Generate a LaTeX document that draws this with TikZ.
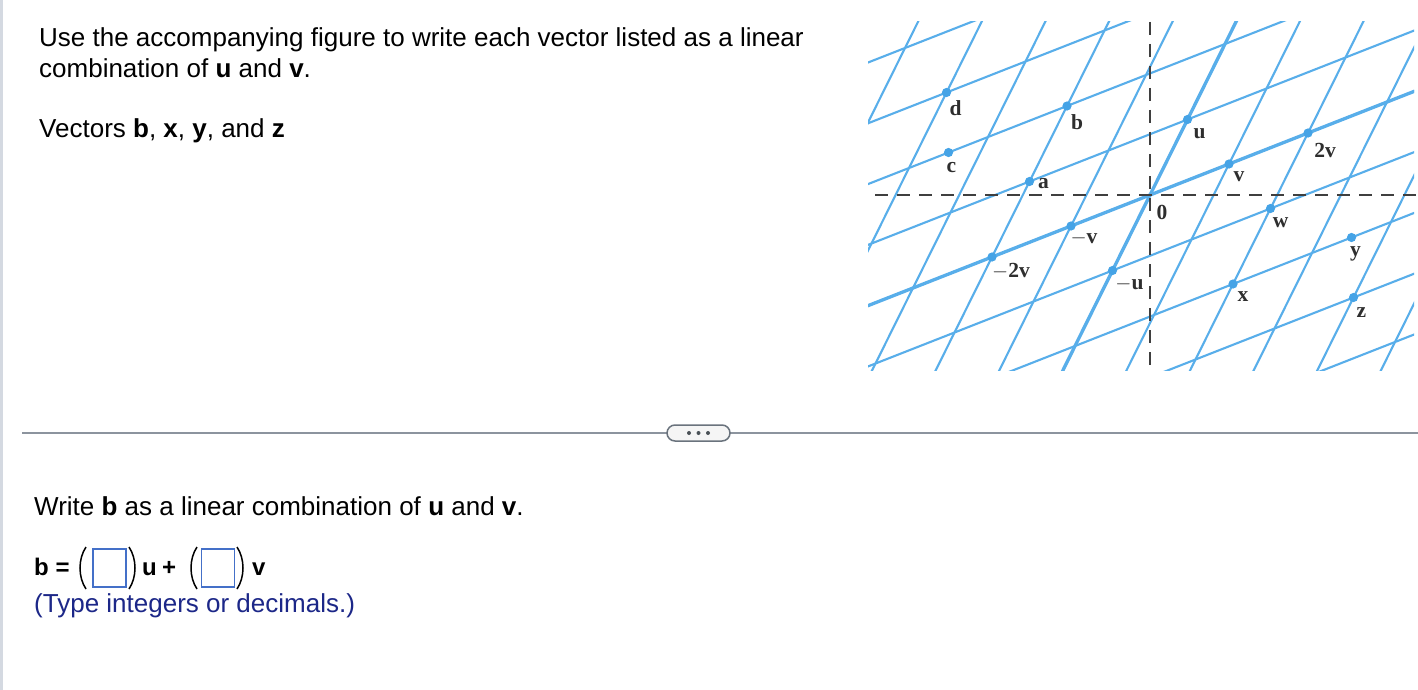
\documentclass[tikz,border=0pt]{standalone}
\usepackage{fontspec}
\setmainfont{Liberation Sans}
\newfontfamily\figfont{Liberation Serif}
\usetikzlibrary{calc, positioning}
\definecolor{gridblue}{HTML}{58AEEA}
\definecolor{dotblue}{HTML}{45A3E6}
\definecolor{labgray}{HTML}{2E2E2E}
\definecolor{axisgray}{HTML}{3F3F3F}
\definecolor{boxblue}{HTML}{4470C8}
\definecolor{hintnavy}{HTML}{1C2788}
\definecolor{rulegray}{HTML}{8C949E}
\definecolor{btngray}{HTML}{6A737D}
\definecolor{edgegray}{HTML}{D4D9E1}

\tikzset{
  prose/.style={anchor=base west, inner sep=0pt, font=\fontsize{26}{31}\selectfont},
  eqtext/.style={anchor=base west, inner sep=0pt, font=\bfseries\fontsize{24}{28}\selectfont},
  veclabel/.style={font=\figfont\bfseries\fontsize{21.5}{21.5}\selectfont, text=labgray, inner sep=0pt},
  vecdot/.style={fill=dotblue},
  gridline/.style={gridblue, line width=2.1pt},
  axisline/.style={gridblue, line width=3.3pt},
  axisdash/.style={axisgray, line width=1.9pt, dash pattern=on 13pt off 9pt},
  ansbox/.style={draw=boxblue, line width=1.4pt, minimum width=33pt, minimum height=38pt, inner sep=0pt},
  paren/.style={black, line width=1.5pt},
  morebtn/.style={draw=btngray, fill=gray!8, line width=1.5pt, rounded corners=8pt,
    minimum width=63pt, minimum height=16pt, inner sep=0pt},
}

\begin{document}
\begin{tikzpicture}[x=1pt, y=-1pt]
  \useasboundingbox (0,0) rectangle (1418,690);
  \fill[white] (0,0) rectangle (1418,690);
  % page edge
  \fill[edgegray] (0,0) rectangle (3,690);

  % question
  \node[prose] (intro1) at (39,47) {Use the accompanying figure to write each vector listed as a linear};
  \node[prose] (intro2) at (39,78) {combination of \textbf{u} and \textbf{v}.};
  \node[prose] (veclist) at (39,137) {Vectors \textbf{b}, \textbf{x}, \textbf{y}, and \textbf{z}};

  % lattice of u and v
  \begin{scope}
    \clip (868,22) rectangle (1414,370);
    \begin{scope}[shift={(1150pt,-195pt)}, x={(37.5pt,75.5pt)}, y={(79pt,31pt)}]
      \foreach \k in {-8,...,8}
        \draw[gridline] (\k,-10) -- (\k,10);
      \foreach \j in {-8,...,8}
        \draw[gridline] (-8,\j) -- (8,\j);
      \draw[axisline] (0,-10) -- (0,10);
      \draw[axisline] (-8,0) -- (8,0);
    \end{scope}
  \end{scope}

  % dashed axes
  \draw[axisdash] (875,195) -- (1418,195);
  \draw[axisdash] (1150,22) -- (1150,370);

  % points and labels
  \begin{scope}[shift={(1150pt,-195pt)}, x={(37.5pt,75.5pt)}, y={(79pt,31pt)}]
    \coordinate (O) at (0,0);
    \coordinate (pd) at (3,-4);
    \coordinate (pb) at (2,-2);
    \coordinate (pc) at (2,-3.5);
    \coordinate (pa) at (1,-2);
    \coordinate (pu) at (1,0);
    \coordinate (pv) at (0,1);
    \coordinate (p2v) at (0,2);
    \coordinate (pmv) at (0,-1);
    \coordinate (pm2v) at (0,-2);
    \coordinate (pmu) at (-1,0);
    \coordinate (pw) at (-1,2);
    \coordinate (py) at (-2,3.5);
    \coordinate (px) at (-2,2);
    \coordinate (pz) at (-3,4);
    \foreach \p in {pd,pb,pc,pa,pu,pv,p2v,pmv,pm2v,pmu,pw,py,px,pz}
      \fill[vecdot] (\p) circle (4.6pt);

    \node[veclabel, xshift=12pt, yshift=-17pt] (lbl-0) at (O) {0};
    \node[veclabel, xshift=9pt, yshift=-16pt] (lbl-d) at (pd) {d};
    \node[veclabel, xshift=10pt, yshift=-16pt] (lbl-b) at (pb) {b};
    \node[veclabel, xshift=3pt, yshift=-15pt] (lbl-c) at (pc) {c};
    \node[veclabel, xshift=14pt, yshift=-2pt] (lbl-a) at (pa) {a};
    \node[veclabel, xshift=12pt, yshift=-14pt] (lbl-u) at (pu) {u};
    \node[veclabel, xshift=10pt, yshift=-13pt] (lbl-v) at (pv) {v};
    \node[veclabel, xshift=17pt, yshift=-17pt] (lbl-2v) at (p2v) {2v};
    \node[veclabel, xshift=13pt, yshift=-12pt] (lbl-mv) at (pmv) {$-$v};
    \node[veclabel, xshift=19pt, yshift=-14pt] (lbl-m2v) at (pm2v) {$-$2v};
    \node[veclabel, xshift=17pt, yshift=-14pt] (lbl-mu) at (pmu) {$-$u};
    \node[veclabel, xshift=10pt, yshift=-14pt] (lbl-w) at (pw) {w};
    \node[veclabel, xshift=4pt, yshift=-16pt] (lbl-y) at (py) {y};
    \node[veclabel, xshift=10pt, yshift=-13pt] (lbl-x) at (px) {x};
    \node[veclabel, xshift=8pt, yshift=-15pt] (lbl-z) at (pz) {z};
  \end{scope}

  % separator
  \draw[rulegray, line width=1.8pt] (22,433) -- (1418,433);
  \node[morebtn] (more) at (698.5,433) {};
  \foreach \dx in {-9.5,0,9.5}
    \fill[btngray!70!black] ([xshift=\dx pt]more.center) circle (2pt);

  % task
  \node[prose] (task) at (34,515) {Write \textbf{b} as a linear combination of \textbf{u} and \textbf{v}.};

  % answer line
  \node[eqtext] (eqb) at (34,575) {b =};
  \node[ansbox] (box1) at (109.5,568) {};
  \node[ansbox] (box2) at (218,568) {};
  \draw[paren] (86,547) .. controls (78,559) and (78,577) .. (86,589);
  \draw[paren] (129,547) .. controls (137,559) and (137,577) .. (129,589);
  \draw[paren] (197,547) .. controls (189,559) and (189,577) .. (197,589);
  \draw[paren] (237,547) .. controls (245,559) and (245,577) .. (237,589);
  \node[eqtext] (equ) at (142,575) {u};
  \node[eqtext] (eqplus) at (162,575) {+};
  \node[eqtext] (eqv) at (252,575) {v};

  \node[prose, text=hintnavy] (hint) at (34,612) {(Type integers or decimals.)};
\end{tikzpicture}
\end{document}
